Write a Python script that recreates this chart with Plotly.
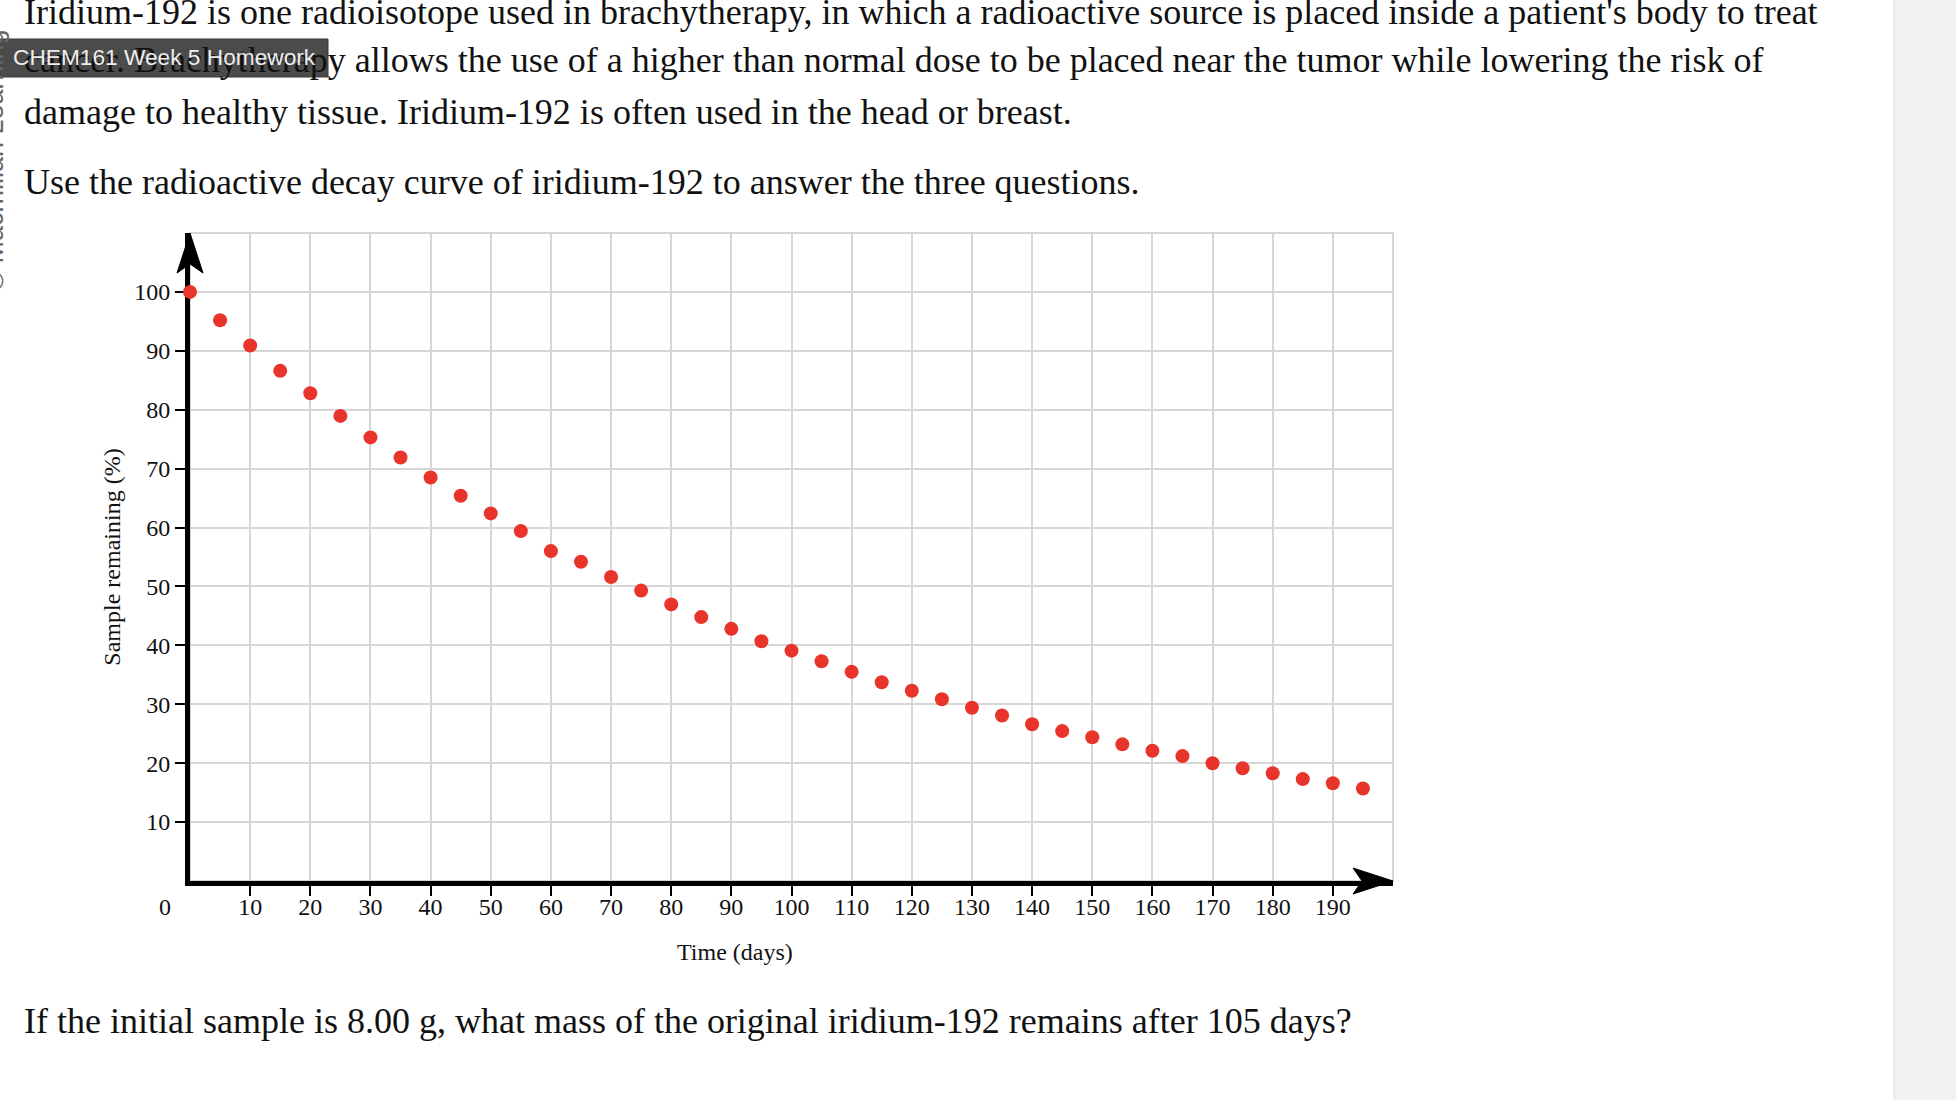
import plotly.graph_objects as go

# ---- data ----
days = [0, 5, 10, 15, 20, 25, 30, 35, 40, 45, 50, 55, 60, 65, 70, 75, 80, 85, 90, 95,
        100, 105, 110, 115, 120, 125, 130, 135, 140, 145, 150, 155, 160, 165, 170, 175,
        180, 185, 190, 195]
remaining = [100, 95.2, 90.9, 86.6, 82.8, 78.95, 75.3, 71.9, 68.5, 65.4, 62.4, 59.4,
             56.0, 54.2, 51.6, 49.3, 46.95, 44.8, 42.8, 40.7, 39.1, 37.3, 35.5, 33.75,
             32.3, 30.85, 29.4, 28.1, 26.6, 25.45, 24.4, 23.2, 22.1, 21.2, 20.0, 19.15,
             18.3, 17.3, 16.6, 15.7]
x_ticks = [10, 20, 30, 40, 50, 60, 70, 80, 90, 100, 110, 120, 130, 140, 150, 160, 170, 180, 190]
y_ticks = [10, 20, 30, 40, 50, 60, 70, 80, 90, 100]

intro_lines = [
    "Iridium-192 is one radioisotope used in brachytherapy, in which a radioactive source is placed inside a patient's body to treat",
    "cancer. Brachytherapy allows the use of a higher than normal dose to be placed near the tumor while lowering the risk of",
    "damage to healthy tissue. Iridium-192 is often used in the head or breast.",
]
instruction = "Use the radioactive decay curve of iridium-192 to answer the three questions."
question = "If the initial sample is 8.00 g, what mass of the original iridium-192 remains after 105 days?"
tooltip = "CHEM161 Week 5 Homework"
side_text = "© Macmillan Learning"
x_title = "Time (days)"
y_title = "Sample remaining (%)"

# ---- page geometry ----
W, H = 1956, 1100
L, R, T, B = 190, 1393, 233, 881


def px(x):
    return (x - L) / (R - L)


def py(y):
    return (B - y) / (B - T)


SERIF = "Liberation Serif, Times New Roman, serif"
SANS = "Liberation Sans, Arial, Helvetica, sans-serif"
GRID = "#d6d6d6"
INK = "#111111"

fig = go.Figure()
fig.add_trace(go.Scatter(
    x=days, y=remaining, mode="markers",
    marker=dict(size=14, color="#e8342a", line=dict(width=0)),
    cliponaxis=False, hoverinfo="x+y",
))

axis_common = dict(
    showgrid=True, gridcolor=GRID, gridwidth=2, zeroline=False,
    showline=True, linecolor="black", linewidth=5,
    ticks="outside", ticklen=10, tickwidth=2, tickcolor="black",
    tickfont=dict(family=SERIF, size=24, color=INK),
    layer="below traces",
)
fig.update_xaxes(range=[0, 200], tickvals=x_ticks, ticklabelstandoff=-10, **axis_common)
fig.update_yaxes(range=[0, 110], tickvals=y_ticks, **axis_common,
                 title=dict(text=y_title, font=dict(family=SERIF, size=24, color=INK),
                            standoff=8))

shapes = [
    # light border on the top/right of the grid
    dict(type="rect", xref="paper", yref="paper", x0=0, x1=1, y0=0, y1=1,
         line=dict(color=GRID, width=2), layer="below"),
    # arrowhead at the end of the x axis
    dict(type="path", xref="paper", yref="paper", xsizemode="pixel", ysizemode="pixel",
         xanchor=1, yanchor=0, path="M 0 0 L -40 13 L -31 0 L -40 -13 Z",
         fillcolor="black", line=dict(color="black", width=1), layer="above"),
    # arrowhead at the top of the y axis
    dict(type="path", xref="paper", yref="paper", xsizemode="pixel", ysizemode="pixel",
         xanchor=0, yanchor=1, path="M 0 0 L -13 -40 L 0 -31 L 13 -40 Z",
         fillcolor="black", line=dict(color="black", width=1), layer="above"),
    # right scrollbar strip
    dict(type="rect", xref="paper", yref="paper", x0=px(1894), x1=px(1960), y0=py(1105), y1=py(-5),
         fillcolor="#f2f2f2", line=dict(color="#dddddd", width=1), layer="above"),
    # tooltip box
    dict(type="rect", xref="paper", yref="paper", x0=px(-2), x1=px(328), y0=py(77), y1=py(39),
         fillcolor="#4b4b4b", line=dict(color="#3a3a3a", width=1), layer="above"),
]

annotations = []
line_centres = [12, 60, 112]
for line, yc in zip(intro_lines, line_centres):
    annotations.append(dict(text=line, xref="paper", yref="paper", x=px(22), y=py(yc),
                            xanchor="left", yanchor="middle", showarrow=False,
                            font=dict(family=SERIF, size=36, color=INK)))
annotations.append(dict(text=instruction, xref="paper", yref="paper", x=px(22), y=py(182),
                        xanchor="left", yanchor="middle", showarrow=False,
                        font=dict(family=SERIF, size=36, color=INK)))
annotations.append(dict(text=question, xref="paper", yref="paper", x=px(22), y=py(1021),
                        xanchor="left", yanchor="middle", showarrow=False,
                        font=dict(family=SERIF, size=36, color=INK)))
annotations.append(dict(text=tooltip, xref="paper", yref="paper", x=px(11), y=py(57),
                        xanchor="left", yanchor="middle", showarrow=False,
                        font=dict(family=SANS, size=22.7, color="#eeeeee")))
annotations.append(dict(text="0", xref="x", yref="y", x=0, y=0, xshift=-25, yshift=-26,
                        xanchor="center", yanchor="middle", showarrow=False,
                        font=dict(family=SERIF, size=24, color=INK)))
annotations.append(dict(text=x_title, xref="paper", yref="paper", x=px(735), y=py(952),
                        xanchor="center", yanchor="middle", showarrow=False,
                        font=dict(family=SERIF, size=24, color=INK)))
annotations.append(dict(text=side_text, xref="paper", yref="paper", x=px(11), y=py(160),
                        xanchor="right", yanchor="middle", textangle=-90, showarrow=False,
                        font=dict(family=SANS, size=27, color="#666666")))

fig.update_layout(
    width=W, height=H,
    margin=dict(l=L, r=W - R, t=T, b=H - B),
    paper_bgcolor="white", plot_bgcolor="white",
    showlegend=False, shapes=shapes, annotations=annotations,
)

fig.write_html("out.html", config={"displayModeBar": False},
               post_script="document.body.style.margin='0px';document.body.style.overflow='hidden';")
